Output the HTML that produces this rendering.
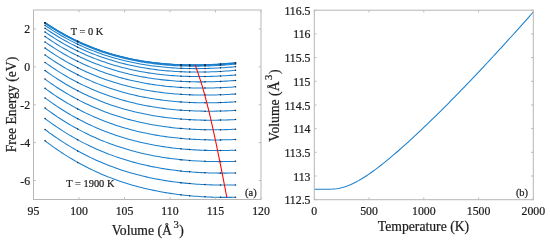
<!DOCTYPE html><html><head><meta charset="utf-8"><style>html,body{margin:0;padding:0;background:#fff;}svg{display:block;}text{font-family:"Liberation Serif","Times New Roman",serif;fill:#1c1c1c;stroke:#1c1c1c;stroke-width:0.22px;}</style></head><body>
<svg width="550" height="242" viewBox="0 0 550 242">
<rect width="550" height="242" fill="#fff"/>
<g transform="translate(0,0)">
<g fill="none" stroke="#1a7fcc" stroke-width="1.05" stroke-linejoin="round">
<path d="M45,22.65 L47.41,24.27 L49.82,25.85 L52.23,27.38 L54.65,28.88 L57.06,30.34 L59.47,31.76 L61.88,33.14 L64.29,34.49 L66.7,35.8 L69.11,37.07 L71.53,38.3 L73.94,39.51 L76.35,40.67 L78.76,41.81 L81.17,42.9 L83.58,43.97 L85.99,45.01 L88.41,46.01 L90.82,46.98 L93.23,47.92 L95.64,48.83 L98.05,49.71 L100.46,50.56 L102.87,51.38 L105.28,52.17 L107.7,52.94 L110.11,53.67 L112.52,54.38 L114.93,55.07 L117.34,55.72 L119.75,56.35 L122.16,56.96 L124.58,57.54 L126.99,58.1 L129.4,58.63 L131.81,59.14 L134.22,59.62 L136.63,60.08 L139.04,60.52 L141.46,60.93 L143.87,61.33 L146.28,61.7 L148.69,62.05 L151.1,62.38 L153.51,62.69 L155.92,62.98 L158.34,63.24 L160.75,63.49 L163.16,63.72 L165.57,63.93 L167.98,64.12 L170.39,64.29 L172.8,64.45 L175.22,64.58 L177.63,64.7 L180.04,64.8 L182.45,64.89 L184.86,64.96 L187.27,65.01 L189.68,65.04 L192.09,65.06 L194.51,65.06 L196.92,65.05 L199.33,65.02 L201.74,64.98 L204.15,64.92 L206.56,64.85 L208.97,64.76 L211.39,64.66 L213.8,64.54 L216.21,64.41 L218.62,64.27 L221.03,64.12 L223.44,63.95 L225.85,63.77 L228.27,63.57 L230.68,63.37 L233.09,63.15 L235.5,62.92" stroke-width="1.4"/>
<path d="M45,22.65 L47.41,24.27 L49.82,25.85 L52.23,27.38 L54.65,28.88 L57.06,30.34 L59.47,31.76 L61.88,33.14 L64.29,34.49 L66.7,35.8 L69.11,37.07 L71.53,38.31 L73.94,39.51 L76.35,40.67 L78.76,41.81 L81.17,42.91 L83.58,43.97 L85.99,45.01 L88.41,46.01 L90.82,46.98 L93.23,47.92 L95.64,48.83 L98.05,49.71 L100.46,50.56 L102.87,51.38 L105.28,52.17 L107.7,52.94 L110.11,53.67 L112.52,54.38 L114.93,55.07 L117.34,55.72 L119.75,56.36 L122.16,56.96 L124.58,57.54 L126.99,58.1 L129.4,58.63 L131.81,59.14 L134.22,59.62 L136.63,60.08 L139.04,60.52 L141.46,60.93 L143.87,61.33 L146.28,61.7 L148.69,62.05 L151.1,62.38 L153.51,62.69 L155.92,62.98 L158.34,63.24 L160.75,63.49 L163.16,63.72 L165.57,63.93 L167.98,64.12 L170.39,64.3 L172.8,64.45 L175.22,64.59 L177.63,64.7 L180.04,64.81 L182.45,64.89 L184.86,64.96 L187.27,65.01 L189.68,65.04 L192.09,65.06 L194.51,65.06 L196.92,65.05 L199.33,65.02 L201.74,64.98 L204.15,64.92 L206.56,64.85 L208.97,64.76 L211.39,64.66 L213.8,64.54 L216.21,64.42 L218.62,64.27 L221.03,64.12 L223.44,63.95 L225.85,63.77 L228.27,63.58 L230.68,63.37 L233.09,63.15 L235.5,62.92"/>
<path d="M45,22.73 L47.41,24.35 L49.82,25.93 L52.23,27.47 L54.65,28.97 L57.06,30.43 L59.47,31.85 L61.88,33.24 L64.29,34.58 L66.7,35.89 L69.11,37.17 L71.53,38.4 L73.94,39.6 L76.35,40.77 L78.76,41.91 L81.17,43.01 L83.58,44.07 L85.99,45.11 L88.41,46.11 L90.82,47.08 L93.23,48.03 L95.64,48.94 L98.05,49.82 L100.46,50.67 L102.87,51.49 L105.28,52.28 L107.7,53.05 L110.11,53.79 L112.52,54.5 L114.93,55.18 L117.34,55.84 L119.75,56.47 L122.16,57.08 L124.58,57.66 L126.99,58.22 L129.4,58.75 L131.81,59.26 L134.22,59.75 L136.63,60.21 L139.04,60.65 L141.46,61.06 L143.87,61.46 L146.28,61.83 L148.69,62.18 L151.1,62.51 L153.51,62.82 L155.92,63.11 L158.34,63.38 L160.75,63.63 L163.16,63.86 L165.57,64.07 L167.98,64.27 L170.39,64.44 L172.8,64.6 L175.22,64.73 L177.63,64.85 L180.04,64.96 L182.45,65.04 L184.86,65.11 L187.27,65.16 L189.68,65.2 L192.09,65.22 L194.51,65.22 L196.92,65.21 L199.33,65.18 L201.74,65.14 L204.15,65.08 L206.56,65.01 L208.97,64.93 L211.39,64.83 L213.8,64.71 L216.21,64.59 L218.62,64.45 L221.03,64.29 L223.44,64.12 L225.85,63.94 L228.27,63.75 L230.68,63.55 L233.09,63.33 L235.5,63.1"/>
<path d="M45,23.36 L47.41,24.99 L49.82,26.57 L52.23,28.12 L54.65,29.62 L57.06,31.09 L59.47,32.51 L61.88,33.9 L64.29,35.25 L66.7,36.56 L69.11,37.84 L71.53,39.08 L73.94,40.29 L76.35,41.46 L78.76,42.6 L81.17,43.71 L83.58,44.78 L85.99,45.82 L88.41,46.83 L90.82,47.8 L93.23,48.75 L95.64,49.66 L98.05,50.55 L100.46,51.41 L102.87,52.23 L105.28,53.03 L107.7,53.8 L110.11,54.54 L112.52,55.26 L114.93,55.95 L117.34,56.61 L119.75,57.25 L122.16,57.86 L124.58,58.45 L126.99,59.01 L129.4,59.55 L131.81,60.06 L134.22,60.55 L136.63,61.02 L139.04,61.46 L141.46,61.88 L143.87,62.28 L146.28,62.66 L148.69,63.02 L151.1,63.35 L153.51,63.67 L155.92,63.96 L158.34,64.23 L160.75,64.49 L163.16,64.72 L165.57,64.94 L167.98,65.14 L170.39,65.32 L172.8,65.48 L175.22,65.62 L177.63,65.74 L180.04,65.85 L182.45,65.94 L184.86,66.01 L187.27,66.07 L189.68,66.11 L192.09,66.14 L194.51,66.15 L196.92,66.14 L199.33,66.12 L201.74,66.08 L204.15,66.03 L206.56,65.96 L208.97,65.88 L211.39,65.79 L213.8,65.68 L216.21,65.56 L218.62,65.42 L221.03,65.27 L223.44,65.11 L225.85,64.93 L228.27,64.75 L230.68,64.55 L233.09,64.34 L235.5,64.11"/>
<path d="M45,25.34 L47.41,26.97 L49.82,28.56 L52.23,30.11 L54.65,31.62 L57.06,33.1 L59.47,34.53 L61.88,35.93 L64.29,37.29 L66.7,38.61 L69.11,39.89 L71.53,41.14 L73.94,42.36 L76.35,43.54 L78.76,44.68 L81.17,45.8 L83.58,46.88 L85.99,47.92 L88.41,48.94 L90.82,49.93 L93.23,50.88 L95.64,51.8 L98.05,52.7 L100.46,53.56 L102.87,54.39 L105.28,55.2 L107.7,55.98 L110.11,56.73 L112.52,57.45 L114.93,58.15 L117.34,58.82 L119.75,59.47 L122.16,60.09 L124.58,60.68 L126.99,61.25 L129.4,61.8 L131.81,62.32 L134.22,62.82 L136.63,63.29 L139.04,63.74 L141.46,64.17 L143.87,64.58 L146.28,64.96 L148.69,65.33 L151.1,65.67 L153.51,65.99 L155.92,66.3 L158.34,66.58 L160.75,66.84 L163.16,67.08 L165.57,67.31 L167.98,67.51 L170.39,67.7 L172.8,67.87 L175.22,68.02 L177.63,68.15 L180.04,68.27 L182.45,68.36 L184.86,68.45 L187.27,68.51 L189.68,68.56 L192.09,68.59 L194.51,68.61 L196.92,68.61 L199.33,68.6 L201.74,68.57 L204.15,68.52 L206.56,68.46 L208.97,68.39 L211.39,68.3 L213.8,68.2 L216.21,68.09 L218.62,67.96 L221.03,67.82 L223.44,67.67 L225.85,67.5 L228.27,67.32 L230.68,67.13 L233.09,66.92 L235.5,66.71"/>
<path d="M45,28.2 L47.41,29.84 L49.82,31.44 L52.23,33 L54.65,34.53 L57.06,36.01 L59.47,37.45 L61.88,38.86 L64.29,40.23 L66.7,41.56 L69.11,42.86 L71.53,44.12 L73.94,45.34 L76.35,46.53 L78.76,47.69 L81.17,48.81 L83.58,49.9 L85.99,50.96 L88.41,51.99 L90.82,52.98 L93.23,53.94 L95.64,54.88 L98.05,55.78 L100.46,56.65 L102.87,57.5 L105.28,58.32 L107.7,59.1 L110.11,59.87 L112.52,60.6 L114.93,61.31 L117.34,61.99 L119.75,62.64 L122.16,63.27 L124.58,63.88 L126.99,64.45 L129.4,65.01 L131.81,65.54 L134.22,66.05 L136.63,66.53 L139.04,67 L141.46,67.44 L143.87,67.85 L146.28,68.25 L148.69,68.62 L151.1,68.98 L153.51,69.31 L155.92,69.62 L158.34,69.91 L160.75,70.18 L163.16,70.44 L165.57,70.67 L167.98,70.88 L170.39,71.08 L172.8,71.26 L175.22,71.42 L177.63,71.56 L180.04,71.69 L182.45,71.79 L184.86,71.88 L187.27,71.96 L189.68,72.02 L192.09,72.06 L194.51,72.09 L196.92,72.1 L199.33,72.09 L201.74,72.07 L204.15,72.04 L206.56,71.99 L208.97,71.93 L211.39,71.85 L213.8,71.76 L216.21,71.65 L218.62,71.53 L221.03,71.4 L223.44,71.26 L225.85,71.1 L228.27,70.93 L230.68,70.75 L233.09,70.55 L235.5,70.35"/>
<path d="M45,31.96 L47.41,33.62 L49.82,35.23 L52.23,36.8 L54.65,38.34 L57.06,39.83 L59.47,41.29 L61.88,42.7 L64.29,44.09 L66.7,45.43 L69.11,46.74 L71.53,48.01 L73.94,49.24 L76.35,50.45 L78.76,51.61 L81.17,52.75 L83.58,53.85 L85.99,54.92 L88.41,55.96 L90.82,56.96 L93.23,57.94 L95.64,58.88 L98.05,59.8 L100.46,60.68 L102.87,61.54 L105.28,62.37 L107.7,63.17 L110.11,63.94 L112.52,64.68 L114.93,65.4 L117.34,66.09 L119.75,66.76 L122.16,67.4 L124.58,68.02 L126.99,68.61 L129.4,69.17 L131.81,69.72 L134.22,70.23 L136.63,70.73 L139.04,71.2 L141.46,71.65 L143.87,72.08 L146.28,72.49 L148.69,72.87 L151.1,73.24 L153.51,73.58 L155.92,73.9 L158.34,74.21 L160.75,74.49 L163.16,74.75 L165.57,75 L167.98,75.22 L170.39,75.43 L172.8,75.62 L175.22,75.79 L177.63,75.94 L180.04,76.08 L182.45,76.2 L184.86,76.3 L187.27,76.38 L189.68,76.45 L192.09,76.51 L194.51,76.54 L196.92,76.56 L199.33,76.57 L201.74,76.56 L204.15,76.54 L206.56,76.5 L208.97,76.45 L211.39,76.38 L213.8,76.3 L216.21,76.2 L218.62,76.1 L221.03,75.98 L223.44,75.84 L225.85,75.69 L228.27,75.54 L230.68,75.36 L233.09,75.18 L235.5,74.98"/>
<path d="M45,36.5 L47.41,38.17 L49.82,39.79 L52.23,41.38 L54.65,42.93 L57.06,44.43 L59.47,45.9 L61.88,47.33 L64.29,48.72 L66.7,50.08 L69.11,51.4 L71.53,52.68 L73.94,53.93 L76.35,55.15 L78.76,56.33 L81.17,57.47 L83.58,58.59 L85.99,59.67 L88.41,60.72 L90.82,61.74 L93.23,62.73 L95.64,63.68 L98.05,64.61 L100.46,65.51 L102.87,66.38 L105.28,67.22 L107.7,68.03 L110.11,68.81 L112.52,69.57 L114.93,70.3 L117.34,71 L119.75,71.68 L122.16,72.33 L124.58,72.96 L126.99,73.56 L129.4,74.14 L131.81,74.7 L134.22,75.23 L136.63,75.73 L139.04,76.22 L141.46,76.68 L143.87,77.12 L146.28,77.54 L148.69,77.94 L151.1,78.31 L153.51,78.67 L155.92,79 L158.34,79.32 L160.75,79.61 L163.16,79.89 L165.57,80.14 L167.98,80.38 L170.39,80.6 L172.8,80.8 L175.22,80.98 L177.63,81.15 L180.04,81.29 L182.45,81.42 L184.86,81.54 L187.27,81.63 L189.68,81.71 L192.09,81.78 L194.51,81.83 L196.92,81.86 L199.33,81.88 L201.74,81.88 L204.15,81.87 L206.56,81.84 L208.97,81.8 L211.39,81.74 L213.8,81.67 L216.21,81.59 L218.62,81.49 L221.03,81.38 L223.44,81.26 L225.85,81.12 L228.27,80.97 L230.68,80.81 L233.09,80.64 L235.5,80.46"/>
<path d="M45,41.88 L47.41,43.56 L49.82,45.2 L52.23,46.8 L54.65,48.36 L57.06,49.88 L59.47,51.36 L61.88,52.81 L64.29,54.21 L66.7,55.58 L69.11,56.91 L71.53,58.21 L73.94,59.47 L76.35,60.7 L78.76,61.89 L81.17,63.05 L83.58,64.18 L85.99,65.28 L88.41,66.34 L90.82,67.37 L93.23,68.37 L95.64,69.34 L98.05,70.28 L100.46,71.19 L102.87,72.07 L105.28,72.92 L107.7,73.75 L110.11,74.54 L112.52,75.31 L114.93,76.06 L117.34,76.77 L119.75,77.46 L122.16,78.13 L124.58,78.77 L126.99,79.38 L129.4,79.98 L131.81,80.54 L134.22,81.08 L136.63,81.6 L139.04,82.1 L141.46,82.58 L143.87,83.03 L146.28,83.46 L148.69,83.87 L151.1,84.26 L153.51,84.62 L155.92,84.97 L158.34,85.3 L160.75,85.6 L163.16,85.89 L165.57,86.16 L167.98,86.41 L170.39,86.64 L172.8,86.85 L175.22,87.05 L177.63,87.22 L180.04,87.38 L182.45,87.52 L184.86,87.65 L187.27,87.76 L189.68,87.85 L192.09,87.93 L194.51,87.99 L196.92,88.03 L199.33,88.06 L201.74,88.07 L204.15,88.07 L206.56,88.06 L208.97,88.03 L211.39,87.98 L213.8,87.93 L216.21,87.85 L218.62,87.77 L221.03,87.67 L223.44,87.56 L225.85,87.43 L228.27,87.3 L230.68,87.15 L233.09,86.99 L235.5,86.81"/>
<path d="M45,48.03 L47.41,49.73 L49.82,51.38 L52.23,52.99 L54.65,54.57 L57.06,56.1 L59.47,57.6 L61.88,59.05 L64.29,60.47 L66.7,61.86 L69.11,63.2 L71.53,64.51 L73.94,65.79 L76.35,67.03 L78.76,68.24 L81.17,69.41 L83.58,70.55 L85.99,71.66 L88.41,72.73 L90.82,73.78 L93.23,74.79 L95.64,75.77 L98.05,76.73 L100.46,77.65 L102.87,78.54 L105.28,79.41 L107.7,80.25 L110.11,81.06 L112.52,81.84 L114.93,82.6 L117.34,83.33 L119.75,84.03 L122.16,84.71 L124.58,85.36 L126.99,85.99 L129.4,86.59 L131.81,87.17 L134.22,87.73 L136.63,88.26 L139.04,88.77 L141.46,89.26 L143.87,89.72 L146.28,90.16 L148.69,90.59 L151.1,90.99 L153.51,91.37 L155.92,91.73 L158.34,92.06 L160.75,92.38 L163.16,92.68 L165.57,92.96 L167.98,93.23 L170.39,93.47 L172.8,93.69 L175.22,93.9 L177.63,94.09 L180.04,94.26 L182.45,94.41 L184.86,94.55 L187.27,94.67 L189.68,94.78 L192.09,94.87 L194.51,94.94 L196.92,94.99 L199.33,95.04 L201.74,95.06 L204.15,95.07 L206.56,95.07 L208.97,95.05 L211.39,95.02 L213.8,94.97 L216.21,94.91 L218.62,94.84 L221.03,94.75 L223.44,94.65 L225.85,94.54 L228.27,94.42 L230.68,94.28 L233.09,94.13 L235.5,93.97"/>
<path d="M45,54.89 L47.41,56.59 L49.82,58.26 L52.23,59.89 L54.65,61.48 L57.06,63.02 L59.47,64.53 L61.88,66 L64.29,67.44 L66.7,68.83 L69.11,70.19 L71.53,71.52 L73.94,72.81 L76.35,74.06 L78.76,75.28 L81.17,76.47 L83.58,77.62 L85.99,78.75 L88.41,79.83 L90.82,80.89 L93.23,81.92 L95.64,82.92 L98.05,83.88 L100.46,84.82 L102.87,85.73 L105.28,86.61 L107.7,87.46 L110.11,88.28 L112.52,89.08 L114.93,89.85 L117.34,90.59 L119.75,91.31 L122.16,92 L124.58,92.66 L126.99,93.3 L129.4,93.92 L131.81,94.51 L134.22,95.08 L136.63,95.63 L139.04,96.15 L141.46,96.65 L143.87,97.13 L146.28,97.58 L148.69,98.02 L151.1,98.43 L153.51,98.82 L155.92,99.2 L158.34,99.55 L160.75,99.88 L163.16,100.19 L165.57,100.49 L167.98,100.76 L170.39,101.02 L172.8,101.25 L175.22,101.47 L177.63,101.67 L180.04,101.86 L182.45,102.02 L184.86,102.17 L187.27,102.31 L189.68,102.42 L192.09,102.52 L194.51,102.61 L196.92,102.68 L199.33,102.73 L201.74,102.77 L204.15,102.79 L206.56,102.8 L208.97,102.8 L211.39,102.78 L213.8,102.74 L216.21,102.69 L218.62,102.63 L221.03,102.56 L223.44,102.47 L225.85,102.37 L228.27,102.26 L230.68,102.13 L233.09,101.99 L235.5,101.84"/>
<path d="M45,62.38 L47.41,64.11 L49.82,65.79 L52.23,67.43 L54.65,69.03 L57.06,70.59 L59.47,72.12 L61.88,73.6 L64.29,75.05 L66.7,76.46 L69.11,77.84 L71.53,79.17 L73.94,80.48 L76.35,81.75 L78.76,82.98 L81.17,84.18 L83.58,85.35 L85.99,86.48 L88.41,87.59 L90.82,88.66 L93.23,89.7 L95.64,90.71 L98.05,91.69 L100.46,92.64 L102.87,93.56 L105.28,94.45 L107.7,95.32 L110.11,96.16 L112.52,96.96 L114.93,97.75 L117.34,98.5 L119.75,99.23 L122.16,99.94 L124.58,100.62 L126.99,101.27 L129.4,101.9 L131.81,102.51 L134.22,103.09 L136.63,103.65 L139.04,104.18 L141.46,104.7 L143.87,105.19 L146.28,105.66 L148.69,106.11 L151.1,106.53 L153.51,106.94 L155.92,107.32 L158.34,107.69 L160.75,108.03 L163.16,108.36 L165.57,108.66 L167.98,108.95 L170.39,109.22 L172.8,109.47 L175.22,109.7 L177.63,109.91 L180.04,110.11 L182.45,110.29 L184.86,110.45 L187.27,110.6 L189.68,110.73 L192.09,110.84 L194.51,110.94 L196.92,111.02 L199.33,111.09 L201.74,111.14 L204.15,111.17 L206.56,111.19 L208.97,111.2 L211.39,111.19 L213.8,111.17 L216.21,111.14 L218.62,111.09 L221.03,111.02 L223.44,110.95 L225.85,110.86 L228.27,110.76 L230.68,110.65 L233.09,110.52 L235.5,110.38"/>
<path d="M45,70.48 L47.41,72.22 L49.82,73.91 L52.23,75.57 L54.65,77.18 L57.06,78.76 L59.47,80.3 L61.88,81.8 L64.29,83.26 L66.7,84.68 L69.11,86.07 L71.53,87.43 L73.94,88.74 L76.35,90.03 L78.76,91.27 L81.17,92.49 L83.58,93.67 L85.99,94.82 L88.41,95.94 L90.82,97.02 L93.23,98.08 L95.64,99.1 L98.05,100.1 L100.46,101.06 L102.87,101.99 L105.28,102.9 L107.7,103.78 L110.11,104.63 L112.52,105.45 L114.93,106.25 L117.34,107.02 L119.75,107.76 L122.16,108.48 L124.58,109.17 L126.99,109.84 L129.4,110.48 L131.81,111.1 L134.22,111.7 L136.63,112.27 L139.04,112.82 L141.46,113.35 L143.87,113.85 L146.28,114.33 L148.69,114.79 L151.1,115.23 L153.51,115.65 L155.92,116.05 L158.34,116.43 L160.75,116.79 L163.16,117.12 L165.57,117.44 L167.98,117.74 L170.39,118.02 L172.8,118.29 L175.22,118.53 L177.63,118.76 L180.04,118.97 L182.45,119.16 L184.86,119.34 L187.27,119.49 L189.68,119.64 L192.09,119.76 L194.51,119.87 L196.92,119.97 L199.33,120.04 L201.74,120.11 L204.15,120.16 L206.56,120.19 L208.97,120.21 L211.39,120.21 L213.8,120.2 L216.21,120.18 L218.62,120.14 L221.03,120.09 L223.44,120.03 L225.85,119.96 L228.27,119.87 L230.68,119.77 L233.09,119.65 L235.5,119.53"/>
<path d="M45,79.12 L47.41,80.88 L49.82,82.59 L52.23,84.26 L54.65,85.89 L57.06,87.48 L59.47,89.03 L61.88,90.55 L64.29,92.02 L66.7,93.46 L69.11,94.86 L71.53,96.23 L73.94,97.56 L76.35,98.86 L78.76,100.12 L81.17,101.35 L83.58,102.55 L85.99,103.71 L88.41,104.84 L90.82,105.94 L93.23,107.01 L95.64,108.05 L98.05,109.06 L100.46,110.03 L102.87,110.98 L105.28,111.9 L107.7,112.79 L110.11,113.66 L112.52,114.5 L114.93,115.31 L117.34,116.09 L119.75,116.85 L122.16,117.58 L124.58,118.28 L126.99,118.97 L129.4,119.62 L131.81,120.26 L134.22,120.86 L136.63,121.45 L139.04,122.01 L141.46,122.55 L143.87,123.07 L146.28,123.57 L148.69,124.04 L151.1,124.49 L153.51,124.92 L155.92,125.34 L158.34,125.73 L160.75,126.1 L163.16,126.45 L165.57,126.78 L167.98,127.09 L170.39,127.39 L172.8,127.66 L175.22,127.92 L177.63,128.16 L180.04,128.38 L182.45,128.59 L184.86,128.78 L187.27,128.95 L189.68,129.1 L192.09,129.24 L194.51,129.36 L196.92,129.47 L199.33,129.56 L201.74,129.64 L204.15,129.7 L206.56,129.75 L208.97,129.78 L211.39,129.79 L213.8,129.8 L216.21,129.79 L218.62,129.76 L221.03,129.73 L223.44,129.67 L225.85,129.61 L228.27,129.53 L230.68,129.45 L233.09,129.34 L235.5,129.23"/>
<path d="M45,88.28 L47.41,90.05 L49.82,91.78 L52.23,93.46 L54.65,95.11 L57.06,96.71 L59.47,98.28 L61.88,99.81 L64.29,101.3 L66.7,102.75 L69.11,104.17 L71.53,105.55 L73.94,106.9 L76.35,108.21 L78.76,109.48 L81.17,110.73 L83.58,111.94 L85.99,113.12 L88.41,114.26 L90.82,115.37 L93.23,116.46 L95.64,117.51 L98.05,118.53 L100.46,119.52 L102.87,120.49 L105.28,121.42 L107.7,122.33 L110.11,123.21 L112.52,124.06 L114.93,124.88 L117.34,125.68 L119.75,126.45 L122.16,127.19 L124.58,127.91 L126.99,128.61 L129.4,129.28 L131.81,129.92 L134.22,130.55 L136.63,131.15 L139.04,131.72 L141.46,132.28 L143.87,132.81 L146.28,133.32 L148.69,133.8 L151.1,134.27 L153.51,134.71 L155.92,135.14 L158.34,135.54 L160.75,135.93 L163.16,136.29 L165.57,136.64 L167.98,136.96 L170.39,137.27 L172.8,137.56 L175.22,137.83 L177.63,138.08 L180.04,138.32 L182.45,138.54 L184.86,138.74 L187.27,138.92 L189.68,139.09 L192.09,139.24 L194.51,139.38 L196.92,139.5 L199.33,139.6 L201.74,139.69 L204.15,139.76 L206.56,139.82 L208.97,139.87 L211.39,139.9 L213.8,139.91 L216.21,139.91 L218.62,139.9 L221.03,139.88 L223.44,139.84 L225.85,139.79 L228.27,139.72 L230.68,139.65 L233.09,139.56 L235.5,139.46"/>
<path d="M45,97.92 L47.41,99.7 L49.82,101.44 L52.23,103.14 L54.65,104.8 L57.06,106.43 L59.47,108.01 L61.88,109.55 L64.29,111.06 L66.7,112.52 L69.11,113.96 L71.53,115.35 L73.94,116.71 L76.35,118.04 L78.76,119.33 L81.17,120.59 L83.58,121.81 L85.99,123 L88.41,124.16 L90.82,125.29 L93.23,126.39 L95.64,127.45 L98.05,128.49 L100.46,129.5 L102.87,130.47 L105.28,131.42 L107.7,132.34 L110.11,133.23 L112.52,134.1 L114.93,134.94 L117.34,135.75 L119.75,136.53 L122.16,137.29 L124.58,138.02 L126.99,138.73 L129.4,139.42 L131.81,140.08 L134.22,140.71 L136.63,141.33 L139.04,141.92 L141.46,142.48 L143.87,143.03 L146.28,143.55 L148.69,144.05 L151.1,144.53 L153.51,144.99 L155.92,145.43 L158.34,145.84 L160.75,146.24 L163.16,146.62 L165.57,146.98 L167.98,147.32 L170.39,147.64 L172.8,147.94 L175.22,148.22 L177.63,148.49 L180.04,148.74 L182.45,148.97 L184.86,149.18 L187.27,149.38 L189.68,149.56 L192.09,149.73 L194.51,149.87 L196.92,150.01 L199.33,150.12 L201.74,150.22 L204.15,150.31 L206.56,150.38 L208.97,150.44 L211.39,150.48 L213.8,150.51 L216.21,150.53 L218.62,150.53 L221.03,150.51 L223.44,150.49 L225.85,150.45 L228.27,150.4 L230.68,150.33 L233.09,150.26 L235.5,150.17"/>
<path d="M45,108.01 L47.41,109.81 L49.82,111.56 L52.23,113.28 L54.65,114.95 L57.06,116.59 L59.47,118.19 L61.88,119.74 L64.29,121.26 L66.7,122.75 L69.11,124.19 L71.53,125.6 L73.94,126.98 L76.35,128.32 L78.76,129.63 L81.17,130.9 L83.58,132.14 L85.99,133.34 L88.41,134.52 L90.82,135.66 L93.23,136.77 L95.64,137.85 L98.05,138.9 L100.46,139.92 L102.87,140.91 L105.28,141.88 L107.7,142.81 L110.11,143.72 L112.52,144.59 L114.93,145.45 L117.34,146.27 L119.75,147.07 L122.16,147.84 L124.58,148.59 L126.99,149.31 L129.4,150.01 L131.81,150.68 L134.22,151.33 L136.63,151.96 L139.04,152.56 L141.46,153.14 L143.87,153.7 L146.28,154.24 L148.69,154.75 L151.1,155.25 L153.51,155.72 L155.92,156.17 L158.34,156.6 L160.75,157.01 L163.16,157.4 L165.57,157.77 L167.98,158.13 L170.39,158.46 L172.8,158.78 L175.22,159.07 L177.63,159.35 L180.04,159.61 L182.45,159.86 L184.86,160.08 L187.27,160.29 L189.68,160.49 L192.09,160.66 L194.51,160.83 L196.92,160.97 L199.33,161.1 L201.74,161.21 L204.15,161.31 L206.56,161.4 L208.97,161.47 L211.39,161.52 L213.8,161.56 L216.21,161.59 L218.62,161.61 L221.03,161.61 L223.44,161.59 L225.85,161.57 L228.27,161.53 L230.68,161.48 L233.09,161.41 L235.5,161.34"/>
<path d="M45,118.53 L47.41,120.34 L49.82,122.11 L52.23,123.84 L54.65,125.53 L57.06,127.18 L59.47,128.79 L61.88,130.36 L64.29,131.9 L66.7,133.4 L69.11,134.86 L71.53,136.28 L73.94,137.67 L76.35,139.03 L78.76,140.35 L81.17,141.63 L83.58,142.89 L85.99,144.11 L88.41,145.3 L90.82,146.45 L93.23,147.58 L95.64,148.67 L98.05,149.74 L100.46,150.77 L102.87,151.78 L105.28,152.75 L107.7,153.7 L110.11,154.62 L112.52,155.52 L114.93,156.38 L117.34,157.22 L119.75,158.03 L122.16,158.82 L124.58,159.58 L126.99,160.32 L129.4,161.03 L131.81,161.72 L134.22,162.38 L136.63,163.02 L139.04,163.64 L141.46,164.23 L143.87,164.8 L146.28,165.35 L148.69,165.88 L151.1,166.39 L153.51,166.87 L155.92,167.34 L158.34,167.78 L160.75,168.21 L163.16,168.61 L165.57,169 L167.98,169.36 L170.39,169.71 L172.8,170.04 L175.22,170.35 L177.63,170.64 L180.04,170.91 L182.45,171.17 L184.86,171.41 L187.27,171.63 L189.68,171.84 L192.09,172.03 L194.51,172.21 L196.92,172.36 L199.33,172.51 L201.74,172.63 L204.15,172.75 L206.56,172.84 L208.97,172.93 L211.39,172.99 L213.8,173.05 L216.21,173.09 L218.62,173.11 L221.03,173.13 L223.44,173.13 L225.85,173.11 L228.27,173.09 L230.68,173.05 L233.09,173 L235.5,172.93"/>
<path d="M45,129.44 L47.41,131.27 L49.82,133.06 L52.23,134.8 L54.65,136.5 L57.06,138.17 L59.47,139.8 L61.88,141.38 L64.29,142.93 L66.7,144.45 L69.11,145.92 L71.53,147.36 L73.94,148.77 L76.35,150.14 L78.76,151.47 L81.17,152.77 L83.58,154.04 L85.99,155.27 L88.41,156.48 L90.82,157.65 L93.23,158.79 L95.64,159.9 L98.05,160.98 L100.46,162.03 L102.87,163.05 L105.28,164.04 L107.7,165 L110.11,165.93 L112.52,166.84 L114.93,167.72 L117.34,168.57 L119.75,169.4 L122.16,170.2 L124.58,170.97 L126.99,171.72 L129.4,172.45 L131.81,173.15 L134.22,173.83 L136.63,174.48 L139.04,175.11 L141.46,175.72 L143.87,176.31 L146.28,176.87 L148.69,177.41 L151.1,177.93 L153.51,178.43 L155.92,178.91 L158.34,179.37 L160.75,179.8 L163.16,180.22 L165.57,180.62 L167.98,181 L170.39,181.36 L172.8,181.7 L175.22,182.03 L177.63,182.33 L180.04,182.62 L182.45,182.89 L184.86,183.14 L187.27,183.38 L189.68,183.6 L192.09,183.8 L194.51,183.99 L196.92,184.16 L199.33,184.32 L201.74,184.46 L204.15,184.58 L206.56,184.69 L208.97,184.79 L211.39,184.87 L213.8,184.93 L216.21,184.99 L218.62,185.03 L221.03,185.05 L223.44,185.06 L225.85,185.06 L228.27,185.05 L230.68,185.02 L233.09,184.98 L235.5,184.93"/>
<path d="M45,140.74 L47.41,142.58 L49.82,144.38 L52.23,146.14 L54.65,147.86 L57.06,149.54 L59.47,151.18 L61.88,152.78 L64.29,154.35 L66.7,155.88 L69.11,157.37 L71.53,158.82 L73.94,160.24 L76.35,161.62 L78.76,162.97 L81.17,164.29 L83.58,165.57 L85.99,166.82 L88.41,168.04 L90.82,169.23 L93.23,170.38 L95.64,171.5 L98.05,172.6 L100.46,173.66 L102.87,174.69 L105.28,175.7 L107.7,176.68 L110.11,177.62 L112.52,178.54 L114.93,179.44 L117.34,180.31 L119.75,181.15 L122.16,181.96 L124.58,182.75 L126.99,183.51 L129.4,184.25 L131.81,184.97 L134.22,185.66 L136.63,186.33 L139.04,186.97 L141.46,187.59 L143.87,188.19 L146.28,188.77 L148.69,189.32 L151.1,189.86 L153.51,190.37 L155.92,190.86 L158.34,191.33 L160.75,191.79 L163.16,192.22 L165.57,192.63 L167.98,193.02 L170.39,193.39 L172.8,193.75 L175.22,194.09 L177.63,194.41 L180.04,194.71 L182.45,194.99 L184.86,195.26 L187.27,195.51 L189.68,195.74 L192.09,195.95 L194.51,196.15 L196.92,196.34 L199.33,196.51 L201.74,196.66 L204.15,196.8 L206.56,196.92 L208.97,197.03 L211.39,197.12 L213.8,197.2 L216.21,197.27 L218.62,197.32 L221.03,197.36 L223.44,197.38 L225.85,197.39 L228.27,197.39 L230.68,197.38 L233.09,197.35 L235.5,197.31"/>
</g>
<g fill="#202838">
<circle cx="45" cy="22.65" r="0.75"/>
<circle cx="77.7" cy="41.31" r="0.75"/>
<circle cx="181" cy="64.84" r="0.75"/>
<circle cx="189.7" cy="65.04" r="0.75"/>
<circle cx="205" cy="64.9" r="0.75"/>
<circle cx="220.5" cy="64.15" r="0.75"/>
<circle cx="235.5" cy="62.92" r="0.75"/>
<circle cx="45" cy="22.65" r="0.75"/>
<circle cx="77.7" cy="41.31" r="0.75"/>
<circle cx="181" cy="64.84" r="0.75"/>
<circle cx="189.7" cy="65.04" r="0.75"/>
<circle cx="205" cy="64.9" r="0.75"/>
<circle cx="220.5" cy="64.15" r="0.75"/>
<circle cx="235.5" cy="62.92" r="0.75"/>
<circle cx="45" cy="22.73" r="0.75"/>
<circle cx="77.7" cy="41.41" r="0.75"/>
<circle cx="181" cy="64.99" r="0.75"/>
<circle cx="189.7" cy="65.2" r="0.75"/>
<circle cx="205" cy="65.06" r="0.75"/>
<circle cx="220.5" cy="64.33" r="0.75"/>
<circle cx="235.5" cy="63.1" r="0.75"/>
<circle cx="45" cy="23.36" r="0.75"/>
<circle cx="77.7" cy="42.11" r="0.75"/>
<circle cx="181" cy="65.89" r="0.75"/>
<circle cx="189.7" cy="66.11" r="0.75"/>
<circle cx="205" cy="66.01" r="0.75"/>
<circle cx="220.5" cy="65.31" r="0.75"/>
<circle cx="235.5" cy="64.11" r="0.75"/>
<circle cx="45" cy="25.34" r="0.75"/>
<circle cx="77.7" cy="44.18" r="0.75"/>
<circle cx="181" cy="68.31" r="0.75"/>
<circle cx="189.7" cy="68.56" r="0.75"/>
<circle cx="205" cy="68.5" r="0.75"/>
<circle cx="220.5" cy="67.85" r="0.75"/>
<circle cx="235.5" cy="66.71" r="0.75"/>
<circle cx="45" cy="28.2" r="0.75"/>
<circle cx="77.7" cy="47.18" r="0.75"/>
<circle cx="181" cy="71.73" r="0.75"/>
<circle cx="189.7" cy="72.02" r="0.75"/>
<circle cx="205" cy="72.02" r="0.75"/>
<circle cx="220.5" cy="71.43" r="0.75"/>
<circle cx="235.5" cy="70.35" r="0.75"/>
<circle cx="45" cy="31.96" r="0.75"/>
<circle cx="77.7" cy="51.1" r="0.75"/>
<circle cx="181" cy="76.13" r="0.75"/>
<circle cx="189.7" cy="76.45" r="0.75"/>
<circle cx="205" cy="76.53" r="0.75"/>
<circle cx="220.5" cy="76" r="0.75"/>
<circle cx="235.5" cy="74.98" r="0.75"/>
<circle cx="45" cy="36.5" r="0.75"/>
<circle cx="77.7" cy="55.81" r="0.75"/>
<circle cx="181" cy="81.35" r="0.75"/>
<circle cx="189.7" cy="81.71" r="0.75"/>
<circle cx="205" cy="81.86" r="0.75"/>
<circle cx="220.5" cy="81.41" r="0.75"/>
<circle cx="235.5" cy="80.46" r="0.75"/>
<circle cx="45" cy="41.88" r="0.75"/>
<circle cx="77.7" cy="61.37" r="0.75"/>
<circle cx="181" cy="87.44" r="0.75"/>
<circle cx="189.7" cy="87.85" r="0.75"/>
<circle cx="205" cy="88.07" r="0.75"/>
<circle cx="220.5" cy="87.69" r="0.75"/>
<circle cx="235.5" cy="86.81" r="0.75"/>
<circle cx="45" cy="48.03" r="0.75"/>
<circle cx="77.7" cy="67.71" r="0.75"/>
<circle cx="181" cy="94.32" r="0.75"/>
<circle cx="189.7" cy="94.78" r="0.75"/>
<circle cx="205" cy="95.07" r="0.75"/>
<circle cx="220.5" cy="94.77" r="0.75"/>
<circle cx="235.5" cy="93.97" r="0.75"/>
<circle cx="45" cy="54.89" r="0.75"/>
<circle cx="77.7" cy="74.75" r="0.75"/>
<circle cx="181" cy="101.93" r="0.75"/>
<circle cx="189.7" cy="102.42" r="0.75"/>
<circle cx="205" cy="102.8" r="0.75"/>
<circle cx="220.5" cy="102.58" r="0.75"/>
<circle cx="235.5" cy="101.84" r="0.75"/>
<circle cx="45" cy="62.38" r="0.75"/>
<circle cx="77.7" cy="82.44" r="0.75"/>
<circle cx="181" cy="110.18" r="0.75"/>
<circle cx="189.7" cy="110.73" r="0.75"/>
<circle cx="205" cy="111.18" r="0.75"/>
<circle cx="220.5" cy="111.04" r="0.75"/>
<circle cx="235.5" cy="110.38" r="0.75"/>
<circle cx="45" cy="70.48" r="0.75"/>
<circle cx="77.7" cy="90.73" r="0.75"/>
<circle cx="181" cy="119.05" r="0.75"/>
<circle cx="189.7" cy="119.64" r="0.75"/>
<circle cx="205" cy="120.17" r="0.75"/>
<circle cx="220.5" cy="120.11" r="0.75"/>
<circle cx="235.5" cy="119.53" r="0.75"/>
<circle cx="45" cy="79.12" r="0.75"/>
<circle cx="77.7" cy="99.57" r="0.75"/>
<circle cx="181" cy="128.47" r="0.75"/>
<circle cx="189.7" cy="129.1" r="0.75"/>
<circle cx="205" cy="129.72" r="0.75"/>
<circle cx="220.5" cy="129.73" r="0.75"/>
<circle cx="235.5" cy="129.23" r="0.75"/>
<circle cx="45" cy="88.28" r="0.75"/>
<circle cx="77.7" cy="108.93" r="0.75"/>
<circle cx="181" cy="138.41" r="0.75"/>
<circle cx="189.7" cy="139.09" r="0.75"/>
<circle cx="205" cy="139.78" r="0.75"/>
<circle cx="220.5" cy="139.88" r="0.75"/>
<circle cx="235.5" cy="139.46" r="0.75"/>
<circle cx="45" cy="97.92" r="0.75"/>
<circle cx="77.7" cy="118.77" r="0.75"/>
<circle cx="181" cy="148.83" r="0.75"/>
<circle cx="189.7" cy="149.56" r="0.75"/>
<circle cx="205" cy="150.34" r="0.75"/>
<circle cx="220.5" cy="150.52" r="0.75"/>
<circle cx="235.5" cy="150.17" r="0.75"/>
<circle cx="45" cy="108.01" r="0.75"/>
<circle cx="77.7" cy="129.06" r="0.75"/>
<circle cx="181" cy="159.71" r="0.75"/>
<circle cx="189.7" cy="160.49" r="0.75"/>
<circle cx="205" cy="161.35" r="0.75"/>
<circle cx="220.5" cy="161.61" r="0.75"/>
<circle cx="235.5" cy="161.34" r="0.75"/>
<circle cx="45" cy="118.53" r="0.75"/>
<circle cx="77.7" cy="139.77" r="0.75"/>
<circle cx="181" cy="171.02" r="0.75"/>
<circle cx="189.7" cy="171.84" r="0.75"/>
<circle cx="205" cy="172.78" r="0.75"/>
<circle cx="220.5" cy="173.12" r="0.75"/>
<circle cx="235.5" cy="172.93" r="0.75"/>
<circle cx="45" cy="129.44" r="0.75"/>
<circle cx="77.7" cy="150.89" r="0.75"/>
<circle cx="181" cy="182.73" r="0.75"/>
<circle cx="189.7" cy="183.6" r="0.75"/>
<circle cx="205" cy="184.62" r="0.75"/>
<circle cx="220.5" cy="185.05" r="0.75"/>
<circle cx="235.5" cy="184.93" r="0.75"/>
<circle cx="45" cy="140.74" r="0.75"/>
<circle cx="77.7" cy="162.39" r="0.75"/>
<circle cx="181" cy="194.82" r="0.75"/>
<circle cx="189.7" cy="195.74" r="0.75"/>
<circle cx="205" cy="196.84" r="0.75"/>
<circle cx="220.5" cy="197.35" r="0.75"/>
<circle cx="235.5" cy="197.31" r="0.75"/>
</g>
<path d="M194.89,65.06 L194.9,65.06 L195.07,65.22 L195.63,66.15 L196.48,68.61 L197.69,72.1 L199.21,76.57 L200.95,81.88 L202.83,88.07 L204.79,95.07 L206.82,102.8 L208.89,111.2 L211.01,120.21 L213.17,129.8 L215.37,139.91 L217.59,150.53 L219.86,161.61 L222.15,173.13 L224.47,185.06 L226.83,197.4" fill="none" stroke="#ff0000" stroke-width="1.05"/>
</g>
<rect x="33.5" y="10.0" width="227.5" height="189.5" fill="none" stroke="#b6b6b6" stroke-width="1"/>
<g stroke="#bcbcbc" stroke-width="1">
<line x1="33.5" y1="199.5" x2="33.5" y2="197.2"/><line x1="33.5" y1="10.0" x2="33.5" y2="12.3"/>
<line x1="79" y1="199.5" x2="79" y2="197.2"/><line x1="79" y1="10.0" x2="79" y2="12.3"/>
<line x1="124.5" y1="199.5" x2="124.5" y2="197.2"/><line x1="124.5" y1="10.0" x2="124.5" y2="12.3"/>
<line x1="170" y1="199.5" x2="170" y2="197.2"/><line x1="170" y1="10.0" x2="170" y2="12.3"/>
<line x1="215.5" y1="199.5" x2="215.5" y2="197.2"/><line x1="215.5" y1="10.0" x2="215.5" y2="12.3"/>
<line x1="261" y1="199.5" x2="261" y2="197.2"/><line x1="261" y1="10.0" x2="261" y2="12.3"/>
<line x1="33.5" y1="180.55" x2="35.8" y2="180.55"/><line x1="261.0" y1="180.55" x2="258.7" y2="180.55"/>
<line x1="33.5" y1="142.65" x2="35.8" y2="142.65"/><line x1="261.0" y1="142.65" x2="258.7" y2="142.65"/>
<line x1="33.5" y1="104.75" x2="35.8" y2="104.75"/><line x1="261.0" y1="104.75" x2="258.7" y2="104.75"/>
<line x1="33.5" y1="66.85" x2="35.8" y2="66.85"/><line x1="261.0" y1="66.85" x2="258.7" y2="66.85"/>
<line x1="33.5" y1="28.95" x2="35.8" y2="28.95"/><line x1="261.0" y1="28.95" x2="258.7" y2="28.95"/>
</g>
<g font-size="11.8" text-anchor="middle">
<text x="33.5" y="215">95</text>
<text x="79" y="215">100</text>
<text x="124.5" y="215">105</text>
<text x="170" y="215">110</text>
<text x="215.5" y="215">115</text>
<text x="261" y="215">120</text>
</g>
<g font-size="11.8" text-anchor="end">
<text x="30.2" y="184.95">-6</text>
<text x="30.2" y="147.05">-4</text>
<text x="30.2" y="109.15">-2</text>
<text x="30.2" y="71.25">0</text>
<text x="30.2" y="33.35">2</text>
</g>
<text font-size="10.4" x="70.7" y="35" style="stroke-width:0.2px">T = 0 K</text>
<text font-size="10.4" x="66.3" y="186.9" style="stroke-width:0.2px">T = 1900 K</text>
<text font-size="10.4" x="245.1" y="195.7">(a)</text>
<text font-size="13.7" x="147.8" y="235" text-anchor="middle">Volume (Å<tspan dx="1.5" dy="-7.5" font-size="10.7">3</tspan><tspan dx="0.5" dy="7.5">)</tspan></text>
<text font-size="13.7" transform="translate(15.5,104.5) rotate(-90)" text-anchor="middle">Free Energy (eV)</text>
<path d="M314.3,189.26 L316.31,189.26 L318.32,189.26 L320.33,189.26 L322.34,189.26 L324.35,189.26 L326.36,189.25 L328.36,189.23 L330.37,189.18 L332.38,189.09 L334.39,188.94 L336.4,188.71 L338.41,188.4 L340.42,188 L342.43,187.51 L344.44,186.93 L346.45,186.27 L348.46,185.52 L350.47,184.69 L352.47,183.78 L354.48,182.8 L356.49,181.76 L358.5,180.66 L360.51,179.5 L362.52,178.28 L364.53,177.02 L366.54,175.71 L368.55,174.36 L370.56,172.97 L372.57,171.54 L374.58,170.08 L376.58,168.59 L378.59,167.06 L380.6,165.51 L382.61,163.93 L384.62,162.32 L386.63,160.69 L388.64,159.04 L390.65,157.37 L392.66,155.68 L394.67,153.96 L396.68,152.23 L398.69,150.49 L400.69,148.72 L402.7,146.94 L404.71,145.15 L406.72,143.34 L408.73,141.52 L410.74,139.68 L412.75,137.83 L414.76,135.97 L416.77,134.1 L418.78,132.21 L420.79,130.32 L422.8,128.41 L424.8,126.49 L426.81,124.56 L428.82,122.63 L430.83,120.68 L432.84,118.72 L434.85,116.76 L436.86,114.79 L438.87,112.8 L440.88,110.81 L442.89,108.81 L444.9,106.8 L446.91,104.79 L448.91,102.77 L450.92,100.73 L452.93,98.7 L454.94,96.65 L456.95,94.6 L458.96,92.54 L460.97,90.47 L462.98,88.4 L464.99,86.31 L467,84.23 L469.01,82.13 L471.02,80.03 L473.02,77.92 L475.03,75.81 L477.04,73.69 L479.05,71.57 L481.06,69.43 L483.07,67.29 L485.08,65.15 L487.09,63 L489.1,60.84 L491.11,58.68 L493.12,56.51 L495.13,54.34 L497.13,52.16 L499.14,49.97 L501.15,47.78 L503.16,45.59 L505.17,43.39 L507.18,41.18 L509.19,38.97 L511.2,36.75 L513.21,34.52 L515.22,32.29 L517.23,30.06 L519.24,27.82 L521.24,25.58 L523.25,23.33 L525.26,21.07 L527.27,18.81 L529.28,16.54 L531.29,14.27 L533.3,12" fill="none" stroke="#1a7fcc" stroke-width="1.05" stroke-linejoin="round"/>
<rect x="314.3" y="10.2" width="218.99999999999994" height="189.5" fill="none" stroke="#b6b6b6" stroke-width="1"/>
<g stroke="#bcbcbc" stroke-width="1">
<line x1="314.3" y1="199.7" x2="314.3" y2="197.39999999999998"/><line x1="314.3" y1="10.2" x2="314.3" y2="12.5"/>
<line x1="369.05" y1="199.7" x2="369.05" y2="197.39999999999998"/><line x1="369.05" y1="10.2" x2="369.05" y2="12.5"/>
<line x1="423.8" y1="199.7" x2="423.8" y2="197.39999999999998"/><line x1="423.8" y1="10.2" x2="423.8" y2="12.5"/>
<line x1="478.55" y1="199.7" x2="478.55" y2="197.39999999999998"/><line x1="478.55" y1="10.2" x2="478.55" y2="12.5"/>
<line x1="533.3" y1="199.7" x2="533.3" y2="197.39999999999998"/><line x1="533.3" y1="10.2" x2="533.3" y2="12.5"/>
<line x1="314.3" y1="199.7" x2="316.6" y2="199.7"/><line x1="533.3" y1="199.7" x2="531.0" y2="199.7"/>
<line x1="314.3" y1="176.01" x2="316.6" y2="176.01"/><line x1="533.3" y1="176.01" x2="531.0" y2="176.01"/>
<line x1="314.3" y1="152.32" x2="316.6" y2="152.32"/><line x1="533.3" y1="152.32" x2="531.0" y2="152.32"/>
<line x1="314.3" y1="128.64" x2="316.6" y2="128.64"/><line x1="533.3" y1="128.64" x2="531.0" y2="128.64"/>
<line x1="314.3" y1="104.95" x2="316.6" y2="104.95"/><line x1="533.3" y1="104.95" x2="531.0" y2="104.95"/>
<line x1="314.3" y1="81.26" x2="316.6" y2="81.26"/><line x1="533.3" y1="81.26" x2="531.0" y2="81.26"/>
<line x1="314.3" y1="57.57" x2="316.6" y2="57.57"/><line x1="533.3" y1="57.57" x2="531.0" y2="57.57"/>
<line x1="314.3" y1="33.89" x2="316.6" y2="33.89"/><line x1="533.3" y1="33.89" x2="531.0" y2="33.89"/>
<line x1="314.3" y1="10.2" x2="316.6" y2="10.2"/><line x1="533.3" y1="10.2" x2="531.0" y2="10.2"/>
</g>
<g font-size="11.8" text-anchor="middle">
<text x="314.3" y="215">0</text>
<text x="369.05" y="215">500</text>
<text x="423.8" y="215">1000</text>
<text x="478.55" y="215">1500</text>
<text x="533.3" y="215">2000</text>
</g>
<g font-size="11.8" text-anchor="end">
<text x="310.5" y="204.3">112.5</text>
<text x="310.5" y="180.61">113</text>
<text x="310.5" y="156.92">113.5</text>
<text x="310.5" y="133.24">114</text>
<text x="310.5" y="109.55">114.5</text>
<text x="310.5" y="85.86">115</text>
<text x="310.5" y="62.17">115.5</text>
<text x="310.5" y="38.49">116</text>
<text x="310.5" y="14.8">116.5</text>
</g>
<text font-size="10.4" x="515.9" y="195.5">(b)</text>
<text font-size="13.7" x="423.5" y="230.6" text-anchor="middle">Temperature (K)</text>
<text font-size="13.7" transform="translate(279.4,105.6) rotate(-90)" text-anchor="middle">Volume (Å<tspan dx="1.5" dy="-7.5" font-size="10.7">3</tspan><tspan dx="0.5" dy="7.5">)</tspan></text>
</svg></body></html>
